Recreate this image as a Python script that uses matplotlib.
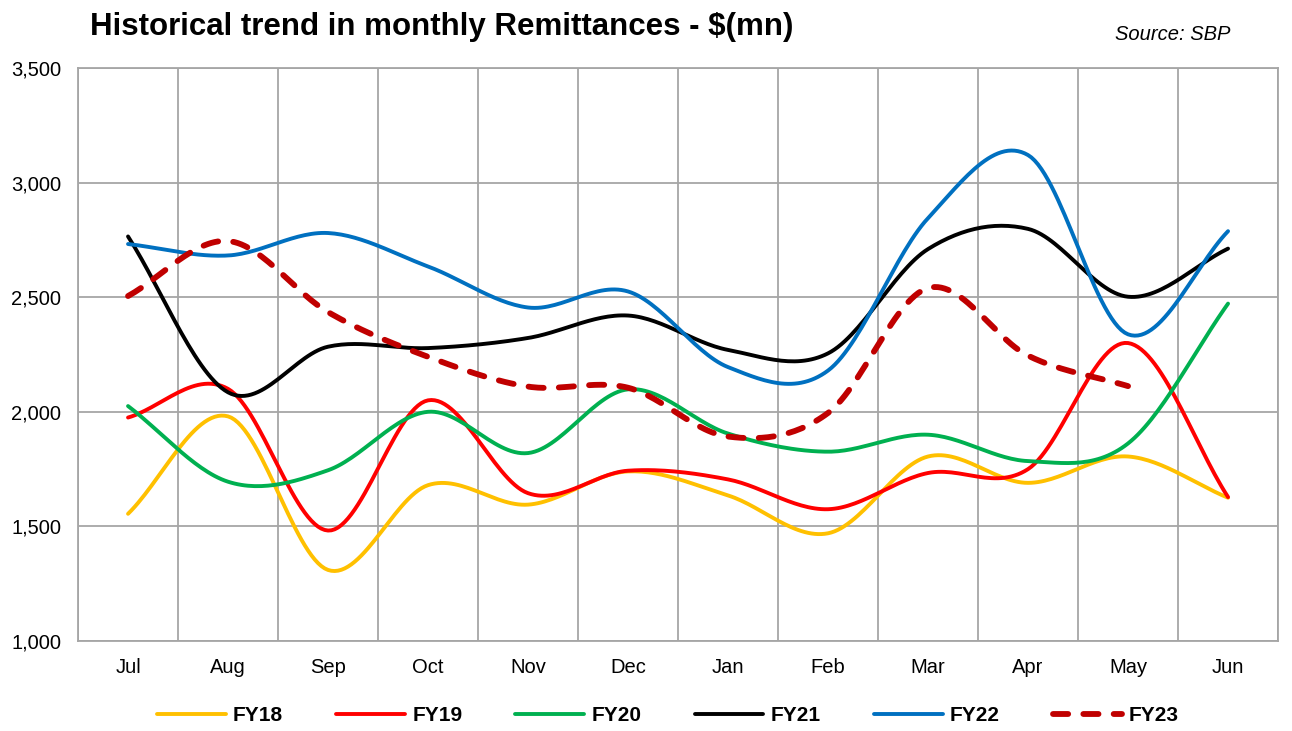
# -*- coding: utf-8 -*-

import matplotlib
matplotlib.use("Agg")
import matplotlib.pyplot as plt
import numpy as np
from matplotlib.ticker import FuncFormatter, MultipleLocator

plt.rcParams["font.family"] = ["Liberation Sans", "DejaVu Sans"]

months = ["Jul", "Aug", "Sep", "Oct", "Nov", "Dec",
          "Jan", "Feb", "Mar", "Apr", "May", "Jun"]

fy18 = [1555, 1980, 1310, 1680, 1595, 1740, 1635, 1470, 1805, 1690, 1805, 1625]
fy19 = [1975, 2100, 1482, 2050, 1645, 1743, 1705, 1575, 1733, 1750, 2300, 1628]
fy20 = [2025, 1695, 1745, 2000, 1820, 2098, 1905, 1826, 1900, 1785, 1862, 2472]
fy21 = [2765, 2085, 2284, 2278, 2322, 2420, 2270, 2255, 2710, 2798, 2502, 2712]
fy22 = [2732, 2682, 2780, 2634, 2455, 2525, 2195, 2180, 2845, 3120, 2338, 2788]
fy23 = [2505, 2745, 2435, 2240, 2110, 2105, 1892, 1995, 2540, 2245, 2112]

series = [
    ("FY18", fy18, "#FFC000", "-"),
    ("FY19", fy19, "#FF0000", "-"),
    ("FY20", fy20, "#00B050", "-"),
    ("FY21", fy21, "#000000", "-"),
    ("FY22", fy22, "#0070C0", "-"),
    ("FY23", fy23, "#C00000", "--"),
]


def smooth(values, steps=30):
    """Catmull-Rom style smoothing, similar to Excel's smoothed lines."""
    y = np.asarray(values, dtype=float)
    x = np.arange(len(y), dtype=float)
    xs, ys = [], []
    for i in range(len(y) - 1):
        p0 = y[i - 1] if i > 0 else y[i]
        p3 = y[i + 2] if i + 2 < len(y) else y[i + 1]
        p1, p2 = y[i], y[i + 1]
        m1 = (p2 - p0) / 2 if i > 0 else (p2 - p1)
        m2 = (p3 - p1) / 2 if i + 2 < len(y) else (p2 - p1)
        t = np.linspace(0, 1, steps, endpoint=False)
        h00 = 2 * t**3 - 3 * t**2 + 1
        h10 = t**3 - 2 * t**2 + t
        h01 = -2 * t**3 + 3 * t**2
        h11 = t**3 - t**2
        xs.append(x[i] + t)
        ys.append(h00 * p1 + h10 * m1 + h01 * p2 + h11 * m2)
    xs.append([x[-1]])
    ys.append([y[-1]])
    return np.concatenate(xs), np.concatenate(ys)


fig = plt.figure(figsize=(12.92, 7.31), dpi=100)
ax = fig.add_axes([0.0604, 0.1231, 0.9288, 0.7839])

for name, vals, color, style in series:
    sx, sy = smooth(vals)
    if style == "--":
        ax.plot(sx, sy, color=color, linewidth=4.2, linestyle=(0, (2.6, 2.6)),
                dash_capstyle="round", label=name)
    else:
        ax.plot(sx, sy, color=color, linewidth=2.8, solid_capstyle="round",
                label=name)

ax.set_xlim(-0.5, 11.5)
ax.set_ylim(1000, 3500)
ax.set_xticks(range(len(months)))
ax.set_xticklabels(months)
ax.xaxis.set_minor_locator(MultipleLocator(1, offset=0.5))
ax.yaxis.set_major_locator(MultipleLocator(500))
ax.yaxis.set_major_formatter(FuncFormatter(lambda v, p: f"{int(v):,}"))
ax.grid(axis="y", which="major", color="#a6a6a6", linewidth=1.3)
ax.grid(axis="x", which="minor", color="#a6a6a6", linewidth=1.3)
ax.set_axisbelow(True)
ax.tick_params(axis="both", which="both", length=0, labelsize=14.5,
               colors="#000000")
ax.tick_params(axis="x", pad=12)
ax.tick_params(axis="y", pad=12)
for s in ax.spines.values():
    s.set_color("#a6a6a6")
    s.set_linewidth(1.3)

fig.text(0.07, 0.963, "Historical trend in monthly Remittances - $(mn)",
         fontsize=22.5, fontweight="bold", va="center", ha="left")
fig.text(0.952, 0.953, "Source: SBP", fontsize=14.5, style="italic",
         va="center", ha="right")

leg = fig.legend(loc="lower center", ncol=6, frameon=False,
                 bbox_to_anchor=(0.517, -0.018), handlelength=3.3,
                 columnspacing=2.55, handletextpad=0.35,
                 prop={"weight": "bold", "size": 15})

fig.savefig("out.png", dpi=100)
plt.close()
